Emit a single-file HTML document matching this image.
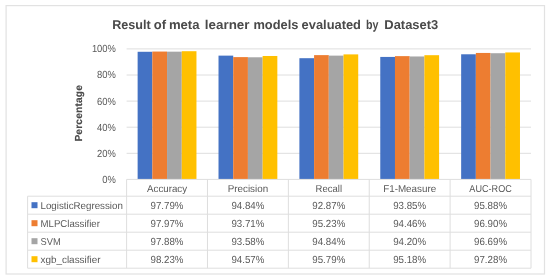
<!DOCTYPE html>
<html><head><meta charset="utf-8"><title>Result of meta learner models evaluated by Dataset3</title>
<style>html,body{margin:0;padding:0;background:#fff}svg{display:block}</style></head>
<body>
<svg width="550" height="279" viewBox="0 0 550 279" font-family="'Liberation Sans', sans-serif" text-rendering="geometricPrecision">
<rect x="0" y="0" width="550" height="279" fill="#fff"/>
<rect x="6.1" y="5.6" width="538.4" height="268.4" fill="#fff" stroke="#e2e2e2" stroke-width="1.2"/>
<text x="102.30" y="182.80" font-size="10.3" fill="#595959" textLength="13.6" lengthAdjust="spacingAndGlyphs">0%</text>
<line x1="126.60" x2="531.00" y1="153.30" y2="153.30" stroke="#dedede" stroke-width="1"/>
<text x="97.10" y="156.70" font-size="10.3" fill="#595959" textLength="18.8" lengthAdjust="spacingAndGlyphs">20%</text>
<line x1="126.60" x2="531.00" y1="127.20" y2="127.20" stroke="#dedede" stroke-width="1"/>
<text x="97.10" y="130.60" font-size="10.3" fill="#595959" textLength="18.8" lengthAdjust="spacingAndGlyphs">40%</text>
<line x1="126.60" x2="531.00" y1="101.10" y2="101.10" stroke="#dedede" stroke-width="1"/>
<text x="97.10" y="104.50" font-size="10.3" fill="#595959" textLength="18.8" lengthAdjust="spacingAndGlyphs">60%</text>
<line x1="126.60" x2="531.00" y1="75.00" y2="75.00" stroke="#dedede" stroke-width="1"/>
<text x="97.10" y="78.40" font-size="10.3" fill="#595959" textLength="18.8" lengthAdjust="spacingAndGlyphs">80%</text>
<line x1="126.60" x2="531.00" y1="48.90" y2="48.90" stroke="#dedede" stroke-width="1"/>
<text x="91.90" y="52.30" font-size="10.3" fill="#595959" textLength="24" lengthAdjust="spacingAndGlyphs">100%</text>
<rect x="137.63" y="51.78" width="14.71" height="127.22" fill="#4472C4"/>
<rect x="152.33" y="51.55" width="14.71" height="127.45" fill="#ED7D31"/>
<rect x="167.04" y="51.67" width="14.71" height="127.33" fill="#A5A5A5"/>
<rect x="181.75" y="51.21" width="14.71" height="127.79" fill="#FFC000"/>
<rect x="218.51" y="55.63" width="14.71" height="123.37" fill="#4472C4"/>
<rect x="233.21" y="57.11" width="14.71" height="121.89" fill="#ED7D31"/>
<rect x="247.92" y="57.28" width="14.71" height="121.72" fill="#A5A5A5"/>
<rect x="262.63" y="55.99" width="14.71" height="123.01" fill="#FFC000"/>
<rect x="299.39" y="58.20" width="14.71" height="120.80" fill="#4472C4"/>
<rect x="314.09" y="55.12" width="14.71" height="123.88" fill="#ED7D31"/>
<rect x="328.80" y="55.63" width="14.71" height="123.37" fill="#A5A5A5"/>
<rect x="343.51" y="54.39" width="14.71" height="124.61" fill="#FFC000"/>
<rect x="380.27" y="56.93" width="14.71" height="122.07" fill="#4472C4"/>
<rect x="394.97" y="56.13" width="14.71" height="122.87" fill="#ED7D31"/>
<rect x="409.68" y="56.47" width="14.71" height="122.53" fill="#A5A5A5"/>
<rect x="424.39" y="55.19" width="14.71" height="123.81" fill="#FFC000"/>
<rect x="461.15" y="54.28" width="14.71" height="124.72" fill="#4472C4"/>
<rect x="475.85" y="52.95" width="14.71" height="126.05" fill="#ED7D31"/>
<rect x="490.56" y="53.22" width="14.71" height="125.78" fill="#A5A5A5"/>
<rect x="505.27" y="52.45" width="14.71" height="126.55" fill="#FFC000"/>
<line x1="126.60" x2="531.00" y1="179.4" y2="179.4" stroke="#dedede" stroke-width="1"/>
<line x1="27.60" x2="531.00" y1="196.2" y2="196.2" stroke="#dedede" stroke-width="1"/>
<line x1="27.60" x2="531.00" y1="214.2" y2="214.2" stroke="#dedede" stroke-width="1"/>
<line x1="27.60" x2="531.00" y1="232.2" y2="232.2" stroke="#dedede" stroke-width="1"/>
<line x1="27.60" x2="531.00" y1="250.2" y2="250.2" stroke="#dedede" stroke-width="1"/>
<line x1="27.60" x2="531.00" y1="268.2" y2="268.2" stroke="#dedede" stroke-width="1"/>
<line x1="126.60" x2="126.60" y1="179.4" y2="268.2" stroke="#dedede" stroke-width="1"/>
<line x1="207.48" x2="207.48" y1="179.4" y2="268.2" stroke="#dedede" stroke-width="1"/>
<line x1="288.36" x2="288.36" y1="179.4" y2="268.2" stroke="#dedede" stroke-width="1"/>
<line x1="369.24" x2="369.24" y1="179.4" y2="268.2" stroke="#dedede" stroke-width="1"/>
<line x1="450.12" x2="450.12" y1="179.4" y2="268.2" stroke="#dedede" stroke-width="1"/>
<line x1="531.00" x2="531.00" y1="179.4" y2="268.2" stroke="#dedede" stroke-width="1"/>
<line x1="27.6" x2="27.6" y1="196.2" y2="268.2" stroke="#dedede" stroke-width="1"/>
<text x="147.04" y="191.6" font-size="10" fill="#595959" textLength="40" lengthAdjust="spacingAndGlyphs">Accuracy</text>
<text x="227.72" y="191.6" font-size="10" fill="#595959" textLength="40.4" lengthAdjust="spacingAndGlyphs">Precision</text>
<text x="315.60" y="191.6" font-size="10" fill="#595959" textLength="26.4" lengthAdjust="spacingAndGlyphs">Recall</text>
<text x="383.18" y="191.6" font-size="10" fill="#595959" textLength="53" lengthAdjust="spacingAndGlyphs">F1-Measure</text>
<text x="469.36" y="191.6" font-size="10" fill="#595959" textLength="42.4" lengthAdjust="spacingAndGlyphs">AUC-ROC</text>
<rect x="31.5" y="202.2" width="6" height="6" fill="#4472C4"/>
<text x="40.5" y="209.10" font-size="10" fill="#595959" textLength="82.4" lengthAdjust="spacingAndGlyphs">LogisticRegression</text>
<text x="150.54" y="209.30" font-size="10.3" fill="#595959" textLength="33" lengthAdjust="spacingAndGlyphs">97.79%</text>
<text x="231.42" y="209.30" font-size="10.3" fill="#595959" textLength="33" lengthAdjust="spacingAndGlyphs">94.84%</text>
<text x="312.30" y="209.30" font-size="10.3" fill="#595959" textLength="33" lengthAdjust="spacingAndGlyphs">92.87%</text>
<text x="393.18" y="209.30" font-size="10.3" fill="#595959" textLength="33" lengthAdjust="spacingAndGlyphs">93.85%</text>
<text x="474.06" y="209.30" font-size="10.3" fill="#595959" textLength="33" lengthAdjust="spacingAndGlyphs">95.88%</text>
<rect x="31.5" y="220.2" width="6" height="6" fill="#ED7D31"/>
<text x="40.5" y="227.10" font-size="10" fill="#595959" textLength="59.4" lengthAdjust="spacingAndGlyphs">MLPClassifier</text>
<text x="150.54" y="227.30" font-size="10.3" fill="#595959" textLength="33" lengthAdjust="spacingAndGlyphs">97.97%</text>
<text x="231.42" y="227.30" font-size="10.3" fill="#595959" textLength="33" lengthAdjust="spacingAndGlyphs">93.71%</text>
<text x="312.30" y="227.30" font-size="10.3" fill="#595959" textLength="33" lengthAdjust="spacingAndGlyphs">95.23%</text>
<text x="393.18" y="227.30" font-size="10.3" fill="#595959" textLength="33" lengthAdjust="spacingAndGlyphs">94.46%</text>
<text x="474.06" y="227.30" font-size="10.3" fill="#595959" textLength="33" lengthAdjust="spacingAndGlyphs">96.90%</text>
<rect x="31.5" y="238.2" width="6" height="6" fill="#A5A5A5"/>
<text x="40.5" y="245.10" font-size="10" fill="#595959" textLength="20.2" lengthAdjust="spacingAndGlyphs">SVM</text>
<text x="150.54" y="245.30" font-size="10.3" fill="#595959" textLength="33" lengthAdjust="spacingAndGlyphs">97.88%</text>
<text x="231.42" y="245.30" font-size="10.3" fill="#595959" textLength="33" lengthAdjust="spacingAndGlyphs">93.58%</text>
<text x="312.30" y="245.30" font-size="10.3" fill="#595959" textLength="33" lengthAdjust="spacingAndGlyphs">94.84%</text>
<text x="393.18" y="245.30" font-size="10.3" fill="#595959" textLength="33" lengthAdjust="spacingAndGlyphs">94.20%</text>
<text x="474.06" y="245.30" font-size="10.3" fill="#595959" textLength="33" lengthAdjust="spacingAndGlyphs">96.69%</text>
<rect x="31.5" y="256.2" width="6" height="6" fill="#FFC000"/>
<text x="40.5" y="263.10" font-size="10" fill="#595959" textLength="60" lengthAdjust="spacingAndGlyphs">xgb_classifier</text>
<text x="150.54" y="263.30" font-size="10.3" fill="#595959" textLength="33" lengthAdjust="spacingAndGlyphs">98.23%</text>
<text x="231.42" y="263.30" font-size="10.3" fill="#595959" textLength="33" lengthAdjust="spacingAndGlyphs">94.57%</text>
<text x="312.30" y="263.30" font-size="10.3" fill="#595959" textLength="33" lengthAdjust="spacingAndGlyphs">95.79%</text>
<text x="393.18" y="263.30" font-size="10.3" fill="#595959" textLength="33" lengthAdjust="spacingAndGlyphs">95.18%</text>
<text x="474.06" y="263.30" font-size="10.3" fill="#595959" textLength="33" lengthAdjust="spacingAndGlyphs">97.28%</text>
<text y="29.1" font-size="12.8" font-weight="bold" fill="#4a4a4a"><tspan x="112.20" textLength="38.50" lengthAdjust="spacingAndGlyphs">Result</tspan> <tspan x="153.70" textLength="12.30" lengthAdjust="spacingAndGlyphs">of</tspan> <tspan x="168.90" textLength="30.60" lengthAdjust="spacingAndGlyphs">meta</tspan> <tspan x="204.80" textLength="44.70" lengthAdjust="spacingAndGlyphs">learner</tspan> <tspan x="253.40" textLength="45.00" lengthAdjust="spacingAndGlyphs">models</tspan> <tspan x="301.60" textLength="59.40" lengthAdjust="spacingAndGlyphs">evaluated</tspan> <tspan x="365.90" textLength="12.50" lengthAdjust="spacingAndGlyphs">by</tspan> <tspan x="384.30" textLength="54.00" lengthAdjust="spacingAndGlyphs">Dataset3</tspan></text>
<text transform="translate(81.6,141.6) rotate(-90)" font-size="10.2" font-weight="bold" fill="#4a4a4a" stroke="#4a4a4a" stroke-width="0.15" textLength="56.5" lengthAdjust="spacing">Percentage</text>
</svg>
</body></html>
